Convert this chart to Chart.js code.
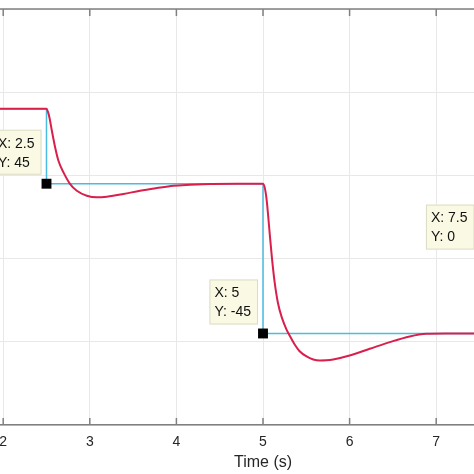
<!DOCTYPE html>
<html>
<head>
<meta charset="utf-8">
<script src="https://cdn.jsdelivr.net/npm/chart.js@4"></script>
<style>
    html, body { margin: 0; padding: 0; background: #fff; width: 474px; height: 474px; overflow: hidden; }
    /* the figure is a crop of a wider plot, so the axes run past both edges */
    .my-chart { position: absolute; left: -177px; top: 0; width: 880px; height: 474px; }
</style>
</head>
<body>
<div class="my-chart"><canvas id="step-response-chart"></canvas></div>
<script>
// reference input (step) and response, time in s
const stepTime = [1.9, 2.5, 2.5, 5, 5, 7.6];
const stepAngle = [90, 90, 45, 45, -45, -45];

const responseTime = [1.9, 2.5, 2.515, 2.534, 2.562, 2.6, 2.638, 2.696, 2.773, 2.85, 2.965, 3.081, 3.196, 3.388, 3.58, 3.773, 3.964, 4.157, 4.4, 4.7,
    5.0, 5.015, 5.03, 5.045, 5.06, 5.08, 5.104, 5.134, 5.172, 5.218, 5.268, 5.307, 5.364, 5.42, 5.503, 5.58, 5.656, 5.73, 5.81, 6.0, 6.233, 6.464, 6.694, 6.887, 7.1, 7.6];
const responseAngle = [90, 90, 88.5, 84.8, 76.8, 66.8, 58.8, 51.8, 44.8, 40.8, 37.8, 36.8, 37.2, 38.8, 40.8, 42.4, 43.8, 44.4, 44.9, 45,
    45, 43.6, 40, 34, 25.5, 13.5, 0, -14, -26.5, -35.5, -42.2, -46.2, -51.5, -55.5, -58.8, -60.6, -61.2, -61.1, -60.6, -58.2, -54.2, -50.2, -46.8, -45.2, -45, -45];

// data tips
const tipX = [2.5, 5, 7.5];
const tipY = [45, -45, 0];

const xTicks = [0, 1, 2, 3, 4, 5, 6, 7, 8, 9, 10];

const axisColor = '#808080';
const textColor = '#262626';
const fontFamily = '"Liberation Sans", Arial, sans-serif';

function toPoints(xs, ys) {
    return xs.map((x, i) => ({ x: x, y: ys[i] }));
}

/**
 * Box frame on top and inward tick marks, like a MATLAB axes
*/
const axesBox = {
    id: 'axesBox',
    afterDraw(chart) {
        const { ctx, chartArea } = chart;
        const xScale = chart.scales.x;
        ctx.save();
        ctx.strokeStyle = axisColor;
        ctx.lineWidth = 1.5;
        ctx.beginPath();
        ctx.moveTo(chartArea.left, chartArea.top);
        ctx.lineTo(chartArea.right, chartArea.top);
        xTicks.forEach(v => {
            const px = xScale.getPixelForValue(v);
            ctx.moveTo(px, chartArea.bottom);
            ctx.lineTo(px, chartArea.bottom - 7);
            ctx.moveTo(px, chartArea.top);
            ctx.lineTo(px, chartArea.top + 7);
        });
        ctx.stroke();
        ctx.restore();
    }
};

const dataTips = {
    id: 'dataTips',
    afterDatasetsDraw(chart) {
        const { ctx } = chart;
        const xScale = chart.scales.x;
        const yScale = chart.scales.y;
        ctx.save();
        ctx.font = '14px ' + fontFamily;
        ctx.textBaseline = 'middle';
        tipX.forEach((x, i) => {
            const lines = ['X: ' + x, 'Y: ' + tipY[i]];
            const w = Math.max(...lines.map(s => ctx.measureText(s).width)) + 12;
            const h = 45;
            const right = xScale.getPixelForValue(x) - 5;
            const bottom = yScale.getPixelForValue(tipY[i]) - 9;
            ctx.fillStyle = '#f9f9e4';
            ctx.strokeStyle = '#dcdcc6';
            ctx.lineWidth = 1;
            ctx.fillRect(right - w, bottom - h, w, h);
            ctx.strokeRect(right - w + 0.5, bottom - h + 0.5, w - 1, h - 1);
            ctx.fillStyle = '#111';
            ctx.fillText(lines[0], right - w + 5, bottom - h + 14);
            ctx.fillText(lines[1], right - w + 5, bottom - h + 33);
        });
        ctx.restore();
    }
};

const target = document.getElementById('step-response-chart');

const chart = new Chart(target, {
    type: 'line',
    data: {
        datasets: [
            {
                label: 'Data tips',
                data: toPoints(tipX, tipY),
                showLine: false,
                pointStyle: 'rect',
                pointRadius: 7,
                backgroundColor: '#000',
                borderColor: '#000',
                borderWidth: 0,
            },
            {
                label: 'Response',
                data: toPoints(responseTime, responseAngle),
                borderColor: '#d91f4b',
                borderWidth: 2,
                pointRadius: 0,
                cubicInterpolationMode: 'monotone',
            },
            {
                label: 'Reference',
                data: toPoints(stepTime, stepAngle),
                borderColor: '#4dbbdf',
                borderWidth: 1.5,
                pointRadius: 0,
                tension: 0,
            },
        ]
    },
    options: {
        responsive: true,
        maintainAspectRatio: false,
        animation: false,
        layout: {
            padding: { top: 9, left: 0, right: 0, bottom: 0 }
        },
        scales: {
            x: {
                type: 'linear',
                min: 0,
                max: 10,
                afterBuildTicks: scale => {
                    scale.ticks = xTicks.map(v => ({ value: v }));
                },
                afterFit: scale => {
                    scale.paddingLeft = 0;
                    scale.paddingRight = 0;
                },
                grid: {
                    color: '#e8e8e8',
                    drawTicks: false,
                },
                border: {
                    color: axisColor,
                    width: 1.5,
                },
                ticks: {
                    padding: 10,
                    color: textColor,
                    font: { family: fontFamily, size: 14, lineHeight: 1 },
                    maxRotation: 0,
                    autoSkip: false,
                },
                title: {
                    display: true,
                    text: 'Time (s)',
                    color: textColor,
                    font: { family: fontFamily, size: 16, lineHeight: 1 },
                    padding: { top: -4, bottom: 3 },
                }
            },
            y: {
                min: -100,
                max: 150,
                afterFit: scale => {
                    scale.width = 0;
                },
                grid: {
                    color: '#e8e8e8',
                    drawTicks: false,
                },
                border: { display: false },
                ticks: {
                    stepSize: 50,
                    display: false,
                }
            }
        },
        plugins: {
            legend: { display: false },
            tooltip: { enabled: false }
        }
    },
    plugins: [axesBox, dataTips]
});
</script>
</body>
</html>
